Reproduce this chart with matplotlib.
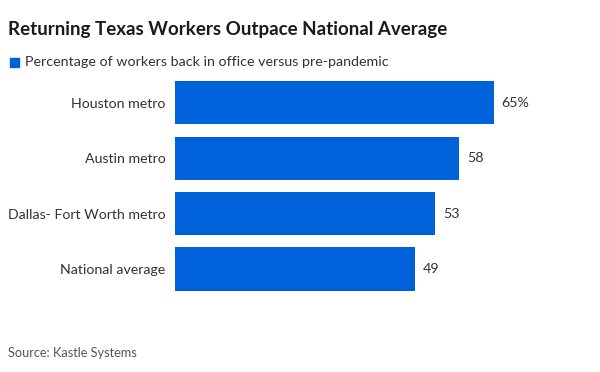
import matplotlib.pyplot as plt
from matplotlib.patches import Rectangle

plt.switch_backend('Agg')

# Data
categories = ['Houston metro', 'Austin metro', 'Dallas- Fort Worth metro', 'National average']
values = [65, 58, 53, 49]
value_labels = ['65%', '58', '53', '49']

bar_color = '#0062db'
text_color = '#333333'
font = 'Lato'

fig = plt.figure(figsize=(6, 3.72), dpi=100)
W, H = 600, 372

# Axes placed in pixel terms: zero at x=175, one category = ~55 px
ax = fig.add_axes([175 / W, 1 - 296.7 / H, 392.4 / W, 221.6 / H])
ypos = list(range(len(categories)))
ax.barh(ypos, values, height=0.78, color=bar_color)
ax.set_xlim(0, 80)
ax.set_ylim(3.5, -0.5)

for y, v, lab in zip(ypos, values, value_labels):
    ax.text(v + 1.6, y, lab, va='center', ha='left', fontsize=10.3,
            color=text_color, family=font)

ax.set_yticks(ypos)
ax.set_yticklabels(categories, fontsize=10.2, color=text_color, family=font)
ax.tick_params(axis='y', length=0, pad=7)
ax.set_xticks([])
for s in ax.spines.values():
    s.set_visible(False)

# Title, legend and source
fig.text(8 / W, 1 - 30 / H, 'Returning Texas Workers Outpace National Average',
         fontsize=13.5, fontweight='bold', color='#1a1a1a', family=font,
         va='center', ha='left')
fig.patches.append(Rectangle((10 / W, 1 - 67 / H), 9 / W, 9 / H,
                             transform=fig.transFigure, color=bar_color))
fig.text(25 / W, 1 - 61.5 / H, 'Percentage of workers back in office versus pre-pandemic',
         fontsize=10.3, color=text_color, family=font, va='center', ha='left')
fig.text(8 / W, 1 - 353 / H, 'Source: Kastle Systems', fontsize=9.2,
         color='#555555', family=font, va='center', ha='left')

plt.savefig('out.png', dpi=100)
plt.close(fig)
